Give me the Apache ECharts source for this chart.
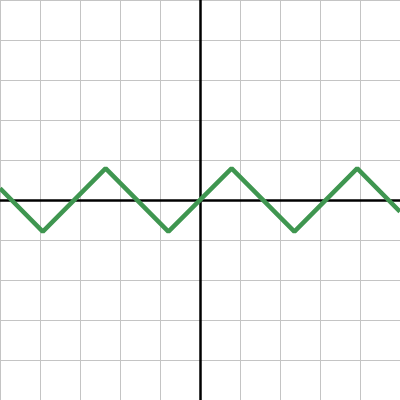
<!DOCTYPE html>
<html><head><meta charset="utf-8">
<script src="https://cdn.jsdelivr.net/npm/echarts@6/dist/echarts.min.js"></script>
<style>html,body{margin:0;padding:0;background:#fff}#c{width:400px;height:400px}</style>
</head><body><div id="c"></div>
<script>
const xs = [-5, -3.93, -2.36, -0.79, 0.79, 2.36, 3.93, 5];
const ys = [0.29, -0.79, 0.79, -0.79, 0.79, -0.79, 0.79, -0.29];
const chart = echarts.init(document.getElementById('c'));
const ax = {type:'value',min:-5,max:5,interval:1,axisLabel:{show:false},axisTick:{show:false},
  axisLine:{show:false},splitLine:{lineStyle:{color:'#c4c4c4',width:1}}};
chart.setOption({
  animation:false,
  grid:{left:0,right:0,top:0,bottom:0},
  xAxis:ax, yAxis:ax,
  series:[
    {type:'line',data:xs.map((x,i)=>[x,ys[i]]),symbol:'none',lineStyle:{color:'#3f9650',width:4.5},z:3,
     markLine:{silent:true,symbol:'none',label:{show:false},lineStyle:{color:'#000',width:2.5,type:'solid'},
       data:[{xAxis:0},{yAxis:0}],z:2}}
  ]
});
</script></body></html>
